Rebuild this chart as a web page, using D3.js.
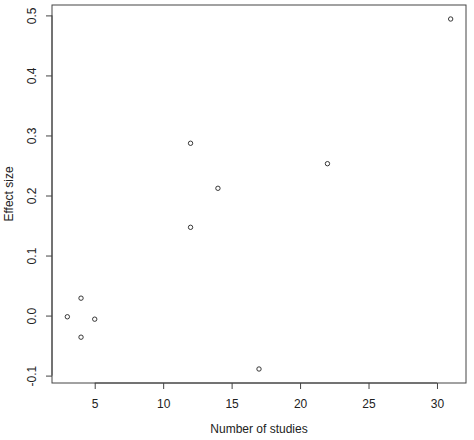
<!DOCTYPE html>
<html><head><meta charset="utf-8">
<script src="https://cdn.jsdelivr.net/npm/d3@7"></script>
<style>body{margin:0;background:#fff}text{font-family:"Liberation Sans",Arial,sans-serif;fill:#222}</style>
</head><body><svg id="chart" width="474" height="440"></svg>
<script>
const studies = [3, 4, 4, 5, 12, 12, 14, 17, 22, 31];
const effects = [-0.002, 0.029, -0.036, -0.006, 0.287, 0.147, 0.212, -0.089, 0.253, 0.494];
const xTicks = [5, 10, 15, 20, 25, 30];
const yTicks = [-0.1, 0, 0.1, 0.2, 0.3, 0.4, 0.5];

let margin = {left: 52, right: 8, top: 5, bottom: 57};
let width = 474, height = 440;
let svg = d3.select("#chart");
let ext = (lo, hi) => { let p = (hi - lo) * 0.04; return [lo - p, hi + p]; };
let x = d3.scaleLinear().domain(ext(d3.min(studies), d3.max(studies))).range([margin.left, width - margin.right]);
let y = d3.scaleLinear().domain(ext(d3.min(effects), d3.max(effects))).range([height - margin.bottom, margin.top]);

svg.append("rect").attr("x", margin.left).attr("y", margin.top)
  .attr("width", width - margin.left - margin.right).attr("height", height - margin.top - margin.bottom)
  .attr("fill", "none").attr("stroke", "#444");

let xa = svg.append("g").attr("transform", `translate(0,${height - margin.bottom})`)
  .call(d3.axisBottom(x).tickValues(xTicks).tickSize(6).tickPadding(10));
xa.select(".domain").attr("d", `M${x(5)},0H${x(30)}`).attr("stroke", "#444");
let ya = svg.append("g").attr("transform", `translate(${margin.left},0)`)
  .call(d3.axisLeft(y).tickValues(yTicks).tickFormat(d => d.toFixed(1)).tickSize(6).tickPadding(4));
ya.select(".domain").attr("d", `M0,${y(-0.1)}V${y(0.5)}`).attr("stroke", "#444");
svg.selectAll(".tick line").attr("stroke", "#444");
svg.selectAll(".tick text").style("font-size", "12px");
ya.selectAll(".tick text").attr("text-anchor", "middle").attr("x", null).attr("dy", null)
  .attr("transform", "translate(-16,0) rotate(-90)");

svg.selectAll("circle.pt").data(studies).enter().append("circle").attr("class", "pt")
  .attr("cx", d => x(d)).attr("cy", (d, i) => y(effects[i])).attr("r", 2.2)
  .attr("fill", "none").attr("stroke", "#222").attr("stroke-width", 0.9);

svg.append("text").attr("x", (margin.left + width - margin.right) / 2).attr("y", 433)
  .attr("text-anchor", "middle").style("font-size", "12px").text("Number of studies");
svg.append("text").attr("transform", `translate(13,${(margin.top + height - margin.bottom) / 2}) rotate(-90)`)
  .attr("text-anchor", "middle").style("font-size", "12px").text("Effect size");
</script></body></html>
